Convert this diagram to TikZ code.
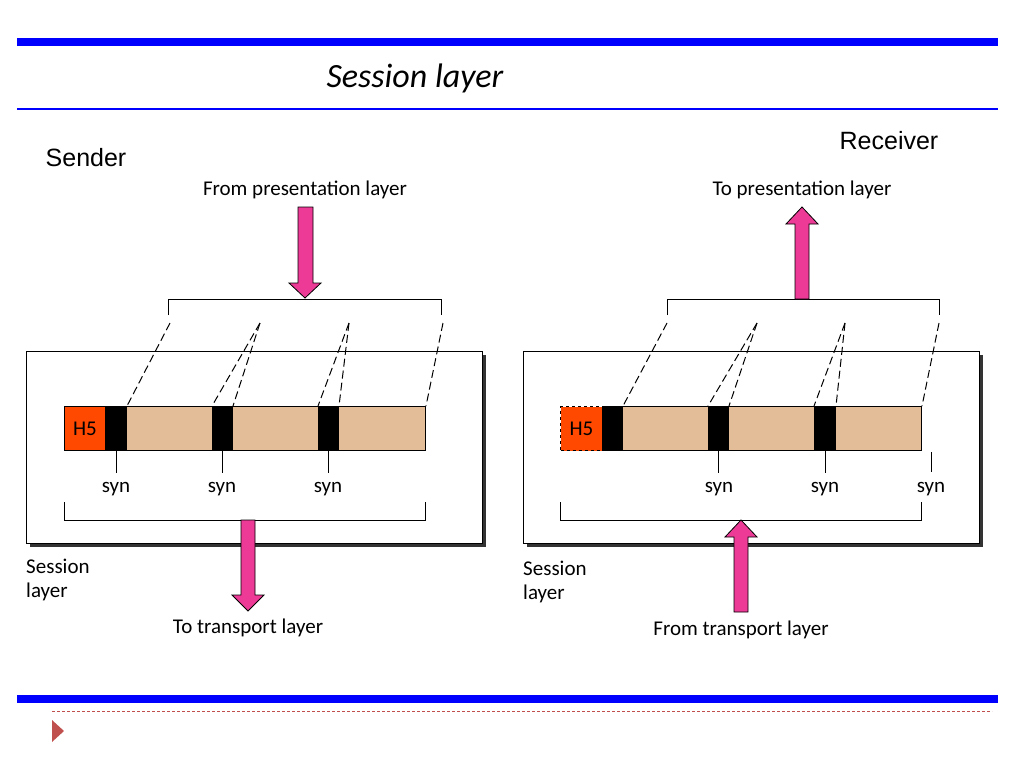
\documentclass[tikz,border=0pt]{standalone}
\usepackage{fontspec}
\setmainfont{Carlito}
\newfontfamily\arialfont{Liberation Sans}
\definecolor{slideblue}{RGB}{0,0,255}
\definecolor{pinkarrow}{RGB}{236,58,150}
\definecolor{hfive}{RGB}{255,72,0}
\definecolor{payload}{RGB}{227,189,152}
\definecolor{footred}{RGB}{192,80,77}
\tikzset{
  seg/.style={draw,line width=1pt,inner sep=0pt,anchor=north west,minimum height=44pt},
  datapart/.style={seg,fill=payload},
  synpart/.style={seg,fill=black},
  hdrpart/.style={seg,fill=hfive,font=\fontsize{21}{25}\selectfont},
  lbl/.style={font=\fontsize{21}{24}\selectfont,inner sep=0pt},
  bigtext/.style={font=\arialfont\fontsize{25}{30}\selectfont,inner sep=0pt},
  fatarrow/.style={fill=pinkarrow,draw=black,line width=0.8pt},
  mapline/.style={dash pattern=on 8pt off 4pt,line width=1pt},
  brace/.style={line width=1pt},
  layerbox/.style={draw,line width=1pt,fill=white}
}
\begin{document}
\begin{tikzpicture}[x=1pt,y=-1pt]
   \useasboundingbox (0,0) rectangle (1024,768);
   % header
   \fill[slideblue] (17,38) rectangle (998,46);
   \fill[slideblue] (17,108) rectangle (998,110);
   \node[font=\fontsize{34}{40}\selectfont\itshape,inner sep=0pt] (title) at (415,78) {Session layer};
   \node[bigtext] (sender) at (86,158) {Sender};
   \node[bigtext] (receiver) at (889,141) {Receiver};
   % sender side
   \fill[black!80] (30,355) rectangle (486,547);
   \draw[layerbox] (26,351) rectangle (482,543);
   \node[hdrpart,minimum width=41pt] (sH) at (64,406) {H5};
   \node[synpart,minimum width=21pt] (sS1) at (105,406) {};
   \node[datapart,minimum width=86pt] (sD1) at (126,406) {};
   \node[synpart,minimum width=20pt] (sS2) at (212,406) {};
   \node[datapart,minimum width=86pt] (sD2) at (232,406) {};
   \node[synpart,minimum width=20pt] (sS3) at (318,406) {};
   \node[datapart,minimum width=87pt] (sD3) at (338,406) {};
   \draw[brace] (sS1.south) -- ++(0,22);
   \draw[brace] (sS2.south) -- ++(0,22);
   \draw[brace] (sS3.south) -- ++(0,22);
   \node[lbl] (sSyn1) at (116,489) {syn};
   \node[lbl] (sSyn2) at (222,489) {syn};
   \node[lbl] (sSyn3) at (328,489) {syn};
   \draw[brace] (168,315) -- (168,299) -- (441,299) -- (441,315);
   \coordinate (sT1) at (170,323);
   \coordinate (sT2) at (260,323);
   \coordinate (sT3) at (349,323);
   \coordinate (sT4) at (443,323);
   \draw[mapline] (sT1) -- (sS1.north east);
   \draw[mapline] (sT2) -- (sS2.north west);
   \draw[mapline] (sT2) -- (sS2.north east);
   \draw[mapline] (sT3) -- (sS3.north west);
   \draw[mapline] (sT3) -- (sS3.north east);
   \draw[mapline] (sT4) -- (sD3.north east);
   \draw[brace] (64,502) -- (64,520) -- (425,520) -- (425,502);
   \node[lbl,anchor=west,align=left] (sLayer) at (26,580) {Session\\layer};
   \node[lbl] (sFrom) at (305,190) {From presentation layer};
   \filldraw[fatarrow] (298,207) -- (313,207) -- (313,283) -- (321,283) -- (305,298) -- (289,283) -- (298,283) -- cycle;
   \filldraw[fatarrow] (241,520) -- (255,520) -- (255,595) -- (264,595) -- (248,611) -- (232,595) -- (241,595) -- cycle;
   \node[lbl] (sTo) at (248,628) {To transport layer};
   % receiver side
   \fill[black!80] (527,355) rectangle (983,547);
   \draw[layerbox] (523,351) rectangle (979,543);
   \node[hdrpart,dashed,minimum width=42pt] (rH) at (560,406) {H5};
   \node[synpart,minimum width=20pt] (rS1) at (602,406) {};
   \node[datapart,minimum width=86pt] (rD1) at (622,406) {};
   \node[synpart,minimum width=20pt] (rS2) at (708,406) {};
   \node[datapart,minimum width=86pt] (rD2) at (728,406) {};
   \node[synpart,minimum width=21pt] (rS3) at (814,406) {};
   \node[datapart,minimum width=86pt] (rD3) at (835,406) {};
   \draw[brace] (rS2.south) -- ++(0,22);
   \draw[brace] (rS3.south) -- ++(0,22);
   \draw[brace] (931,452) -- (931,472);
   \node[lbl] (rSyn1) at (719,489) {syn};
   \node[lbl] (rSyn2) at (825,489) {syn};
   \node[lbl] (rSyn3) at (931,489) {syn};
   \draw[brace] (667,315) -- (667,299) -- (939,299) -- (939,315);
   \coordinate (rT1) at (667,323);
   \coordinate (rT2) at (757,323);
   \coordinate (rT3) at (845,323);
   \coordinate (rT4) at (939,323);
   \draw[mapline] (rT1) -- (rS1.north east);
   \draw[mapline] (rT2) -- (rS2.north west);
   \draw[mapline] (rT2) -- (rS2.north east);
   \draw[mapline] (rT3) -- (rS3.north west);
   \draw[mapline] (rT3) -- (rS3.north east);
   \draw[mapline] (rT4) -- (rD3.north east);
   \draw[brace] (560,502) -- (560,520) -- (921,520) -- (921,502);
   \node[lbl,anchor=west,align=left] (rLayer) at (523,582) {Session\\layer};
   \node[lbl] (rTo) at (802,190) {To presentation layer};
   \filldraw[fatarrow] (802,207) -- (818,224) -- (809,224) -- (809,299) -- (795,299) -- (795,224) -- (786,224) -- cycle;
   \filldraw[fatarrow] (741,520) -- (757,537) -- (748,537) -- (748,612) -- (734,612) -- (734,537) -- (725,537) -- cycle;
   \node[lbl] (rFrom) at (741,630) {From transport layer};
   % footer
   \fill[slideblue] (17,695) rectangle (998,703);
   \draw[footred,dash pattern=on 3pt off 2pt,line width=1pt] (52,711) -- (992,711);
   \fill[footred] (52,720) -- (64,731) -- (52,742) -- cycle;
\end{tikzpicture}
\end{document}
